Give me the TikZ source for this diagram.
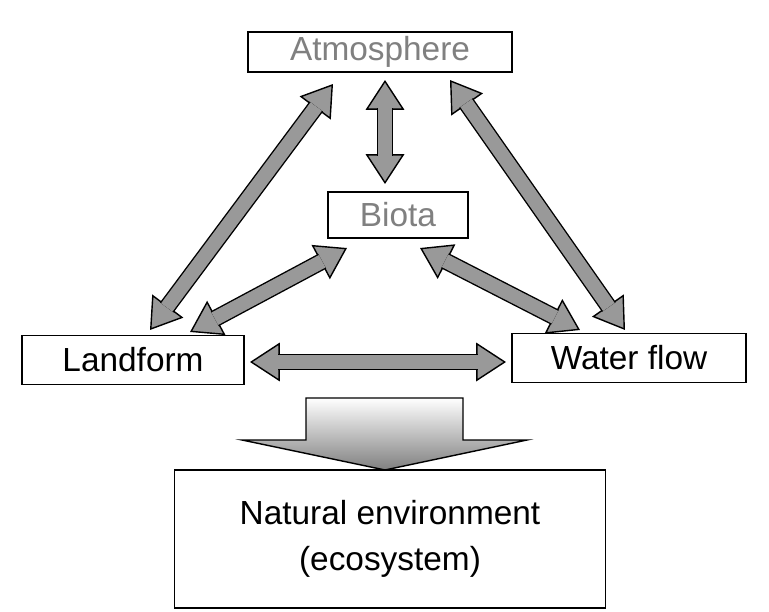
\documentclass[tikz,border=0pt]{standalone}
\usepackage{fontspec}
\setmainfont{Liberation Sans}
\usetikzlibrary{arrows.meta}
\tikzset{
  box/.style={draw, line width=0.8pt, fill=white, inner sep=0pt, font=\fontsize{19}{26}\selectfont},
  faint/.style={text=black!50},
  tip/.style={line width=0.8pt, {Triangle[width=22pt,length=17pt,fill=black!40]}-{Triangle[width=22pt,length=17pt,fill=black!40]}},
  shaft/.style={line width=0.8pt, double=black!40, double distance=8pt, shorten <=16pt, shorten >=16pt}
}
\newcommand{\fatarrow}[2]{%
  \draw[tip] (#1) -- (#2);
  \draw[shaft] (#1) -- (#2);}
\begin{document}
\begin{tikzpicture}[x=0.02cm, y=-0.02cm]
  \useasboundingbox (0,0) rectangle (769,612);
  % boxes
  \node[box, faint, minimum width=264*0.02cm, minimum height=40*0.02cm] (atm) at (380,52) {Atmosphere};
  \node[box, faint, minimum width=140*0.02cm, minimum height=46*0.02cm] (bio) at (398,215) {Biota};
  \node[box, minimum width=222*0.02cm, minimum height=49*0.02cm] (land) at (133,360) {Landform};
  \node[box, minimum width=234*0.02cm, minimum height=49*0.02cm] (water) at (629,358) {Water flow};
  \node[box, minimum width=431*0.02cm, minimum height=138*0.02cm, align=center] (nat) at (390,539) {Natural environment\\(ecosystem)};
  % arrow ends
  \coordinate (a1) at (385,80);   \coordinate (b1) at (385,184);
  \coordinate (a2) at (333,84);   \coordinate (l2) at (150,330);
  \coordinate (a3) at (450,80);   \coordinate (w3) at (625,330);
  \coordinate (b4) at (347,248);  \coordinate (l4) at (190,332);
  \coordinate (b5) at (420,248);  \coordinate (w5) at (580,330);
  \coordinate (l6) at (250,362);  \coordinate (w6) at (506,362);
  \fatarrow{a1}{b1}
  \fatarrow{a2}{l2}
  \fatarrow{a3}{w3}
  \fatarrow{b4}{l4}
  \fatarrow{b5}{w5}
  \fatarrow{l6}{w6}
  % down arrow
  \shade[top color=white, bottom color=black!50, draw=black, line width=0.8pt]
    (306,398) -- (463,398) -- (463,440) -- (527,440) -- (385,470)
    -- (242,440) -- (306,440) -- cycle;
\end{tikzpicture}
\end{document}
